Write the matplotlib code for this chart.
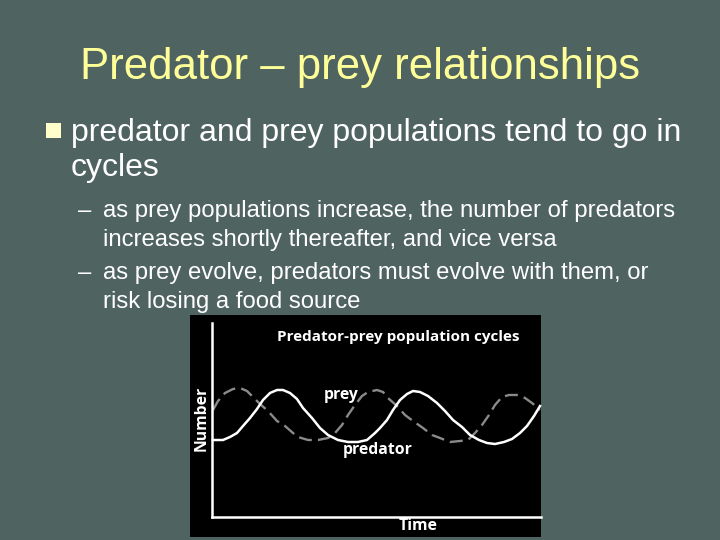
import matplotlib
matplotlib.use("Agg")
import matplotlib.pyplot as plt
from matplotlib.patches import Rectangle

# slide text
title = "Predator \u2013 prey relationships"
bullet_lines = ["predator and prey populations tend to go in", "cycles"]
sub_bullets = [
    ["as prey populations increase, the number of predators",
     "increases shortly thereafter, and vice versa"],
    ["as prey evolve, predators must evolve with them, or",
     "risk losing a food source"],
]

# chart data (time, number)
pred_time = [1, 11, 18, 25, 31, 38, 45, 51, 58, 65, 71, 78, 85, 91, 100, 108,
             116, 126, 136, 146, 155, 163, 168, 175, 181, 188, 195, 201, 208,
             216, 225, 233, 241, 250, 258, 267, 275, 283, 292, 300, 308, 315,
             322, 328]
pred_num = [77, 77, 80, 84, 91, 99, 108, 117, 124, 127, 127, 124, 118, 109, 99,
            89, 82, 77, 75, 75, 77, 84, 89, 97, 107, 117, 123, 126, 125, 121,
            114, 106, 97, 90, 82, 77, 74, 73, 75, 78, 84, 91, 101, 111]
prey_time = [1, 6, 13, 21, 28, 35, 41, 48, 56, 65, 73, 81, 86, 96, 106, 116,
             123, 130, 136, 143, 150, 156, 165, 171, 176, 185, 193, 201, 211,
             220, 228, 238, 248, 256, 263, 270, 277, 283, 290, 297, 305, 313,
             320, 328]
prey_num = [107, 116, 124, 128, 129, 126, 120, 113, 106, 96, 91, 84, 80, 77, 77,
            79, 84, 92, 102, 112, 121, 125, 127, 125, 119, 111, 102, 96, 89, 82,
            79, 75, 76, 77, 84, 92, 102, 112, 120, 122, 122, 119, 114, 107]

BG = "#4f6361"
W, H = 720, 540

fig = plt.figure(figsize=(7.2, 5.4), dpi=100)
fig.patch.set_facecolor(BG)

def fx(px):
    return px / W

def fy(py):
    return 1 - py / H

font = ["Liberation Sans", "DejaVu Sans"]

fig.text(fx(360), fy(68), title, color="#ffff99", fontsize=31.5,
         ha="center", va="center", family=font)

# main bullet
fig.patches.append(Rectangle((fx(46), fy(138)), 15 / W, 15 / H, transform=fig.transFigure,
                             facecolor="#ffffcc", edgecolor="none", zorder=-1))
for i, line in enumerate(bullet_lines):
    fig.text(fx(71), fy(141 + i * 35), line, color="white", fontsize=23,
             ha="left", va="baseline", family=font)

# sub bullets
y = 217
for lines in sub_bullets:
    fig.text(fx(78), fy(y), "\u2013", color="white", fontsize=17.2,
             ha="left", va="baseline", family=font)
    for line in lines:
        fig.text(fx(103), fy(y), line, color="white", fontsize=17.2,
                 ha="left", va="baseline", family=font)
        y += 29
    y += 4

# embedded chart: black box
fig.patches.append(Rectangle((fx(190), fy(537)), 351 / W, 222 / H, transform=fig.transFigure,
                             facecolor="black", edgecolor="none", zorder=-1))

ax = fig.add_axes([fx(212), fy(517), (541 - 212) / W, (517 - 323) / H])
ax.set_facecolor("black")
ax.set_xlim(0, 329)
ax.set_ylim(0, 194)
for s in ["top", "right"]:
    ax.spines[s].set_visible(False)
for s in ["left", "bottom"]:
    ax.spines[s].set_color("white")
    ax.spines[s].set_linewidth(1.8)
ax.set_xticks([])
ax.set_yticks([])

ax.plot(prey_time, prey_num, color="#8a8a8a", lw=1.7, dashes=(5.5, 2.6), clip_on=False)
ax.plot(pred_time, pred_num, color="white", lw=1.8, clip_on=False)

cfont = ["Open Sans", "DejaVu Sans"]
fig.text(fx(398), fy(337), "Predator-prey population cycles", color="white",
         fontsize=11, fontweight="bold", ha="center", va="center", family=cfont)
fig.text(fx(341), fy(395), "prey", color="white", fontsize=11.3,
         fontweight="bold", ha="center", va="center", family=cfont)
fig.text(fx(378), fy(450), "predator", color="white", fontsize=11.3,
         fontweight="bold", ha="center", va="center", family=cfont)
fig.text(fx(418), fy(526), "Time", color="white", fontsize=11.3,
         fontweight="bold", ha="center", va="center", family=cfont)
fig.text(fx(202), fy(418), "Number", color="white", fontsize=11.3, rotation=90,
         fontweight="bold", ha="center", va="center", family=cfont)

fig.savefig("out.png", dpi=100, facecolor=BG)
